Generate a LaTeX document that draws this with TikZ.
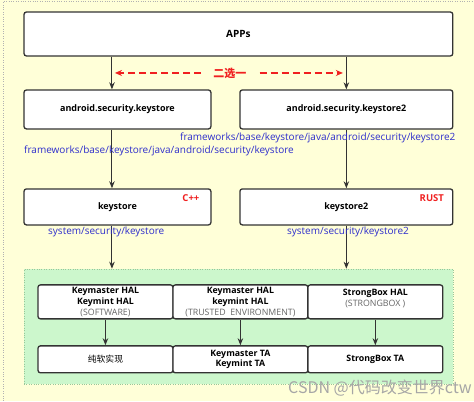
\documentclass[tikz,border=0pt]{standalone}
\usepackage{fontspec}
\setmainfont{Open Sans}
\newfontfamily\cjk{Noto Sans CJK SC}
\usetikzlibrary{arrows.meta}
\definecolor{bgyellow}{HTML}{FFFFD8}
\definecolor{hwgreen}{HTML}{CCF7CC}
\definecolor{pathblue}{HTML}{2E2ECC}
\definecolor{markred}{HTML}{F02020}
\begin{document}
\begin{tikzpicture}[x=1pt,y=-1pt,
    box/.style={draw=black!80,line width=1.3pt,rounded corners=2.5pt,fill=white,
        inner sep=0pt,align=center,font=\fontsize{9}{11}\selectfont\bfseries},
    halbox/.style={box,minimum width=135pt,font=\fontsize{8.8}{10.8}\selectfont\bfseries},
    arr/.style={draw=black!80,line width=1pt,-{Stealth[length=7pt,width=5.5pt]}},
    choice/.style={draw=markred,line width=1.2pt,dash pattern=on 7pt off 4pt,
        -{Stealth[length=7pt,width=6pt]}},
    pathlabel/.style={anchor=west,inner sep=0pt,text=pathblue,font=\fontsize{10}{12}\selectfont},
    lang/.style={inner sep=0pt,text=markred,font=\fontsize{9.5}{11}\selectfont\bfseries}]
    % background
    \fill[bgyellow] (0,0) rectangle (474,401);
    \draw[black!30,dotted] (3,401) -- (3,1) -- (474,1);
    \useasboundingbox (0,0) rectangle (474,401);
    % top part
    \node[box,minimum width=429pt,minimum height=44pt,font=\fontsize{10}{12}\selectfont\bfseries] (apps) at (238.5,34) {APPs};
    \node[box,minimum width=187pt,minimum height=39pt] (aks) at (117.5,109.5) {android.security.keystore};
    \node[box,minimum width=213pt,minimum height=39pt] (aks2) at (346.5,109.5) {android.security.keystore2};
    \node[box,minimum width=187pt,minimum height=36pt] (ks) at (117.5,207) {keystore};
    \node[box,minimum width=213pt,minimum height=36pt] (ks2) at (346.5,207) {keystore2};
    \node[lang] at (191,198) {C++};
    \node[lang] at (432,198) {RUST};
    % hardware part
    \node[draw=green!45!black!40,dotted,fill=hwgreen,minimum width=429pt,minimum height=115pt] (hw) at (238.5,326.5) {};
    \node[halbox,minimum height=34pt] (hal1) at (105.5,302) {Keymaster HAL\\Keymint HAL\\{\mdseries\color{black!60}(SOFTWARE)}};
    \node[halbox,minimum height=34pt] (hal2) at (240.5,302) {Keymaster HAL\\keymint HAL\\{\mdseries\color{black!60}(TRUSTED\ \ ENVIRONMENT)}};
    \node[halbox,minimum height=34pt] (hal3) at (375.5,302) {StrongBox HAL\\{\mdseries\color{black!60}(STRONGBOX )}\\[-2pt]};
    \node[halbox,minimum height=27pt] (ta1) at (105.5,359.5) {\cjk\mdseries 纯软实现};
    \node[halbox,minimum height=27pt] (ta2) at (240.5,359.5) {Keymaster TA\\Keymint TA};
    \node[halbox,minimum height=27pt] (ta3) at (375.5,359.5) {StrongBox TA};
    % connectors
    \draw[arr] ([xshift=-5.5pt]aks.north |- apps.south) -- ([xshift=-5.5pt]aks.north);
    \draw[arr] (aks2.north |- apps.south) -- (aks2.north);
    \draw[arr] ([xshift=-5.5pt]aks.south) -- ([xshift=-5.5pt]ks.north);
    \draw[arr] (aks2.south) -- (ks2.north);
    \draw[arr] ([xshift=-5.5pt]ks.south) -- ([xshift=-5.5pt]ks.south |- hw.north);
    \draw[arr] (ks2.south) -- (ks2.south |- hw.north);
    \foreach \i in {1,2,3}
        \draw[arr] (hal\i.south) -- (ta\i.north);
    % one of two
    \node[inner sep=1pt,text=markred,font=\cjk\fontsize{11}{13}\selectfont\bfseries] (choose) at (230,73) {二选一};
    \coordinate (cl) at (115,73);
    \coordinate (cr) at (343,73);
    \draw[choice] ([xshift=-11pt]choose.west) -- (cl);
    \draw[choice] ([xshift=12pt]choose.east) -- (cr);
    % source paths
    \node[pathlabel] at (180,138) {frameworks/base/keystore/java/android/security/keystore2};
    \node[pathlabel] at (24,151) {frameworks/base/keystore/java/android/security/keystore};
    \node[pathlabel] at (48,232) {system/security/keystore};
    \node[pathlabel] at (287,232) {system/security/keystore2};
    % watermark
    \node[anchor=east,inner sep=0pt,text=black!35,font=\cjk\fontsize{16}{18}\selectfont] at (472,388) {CSDN @代码改变世界ctw};
\end{tikzpicture}
\end{document}
